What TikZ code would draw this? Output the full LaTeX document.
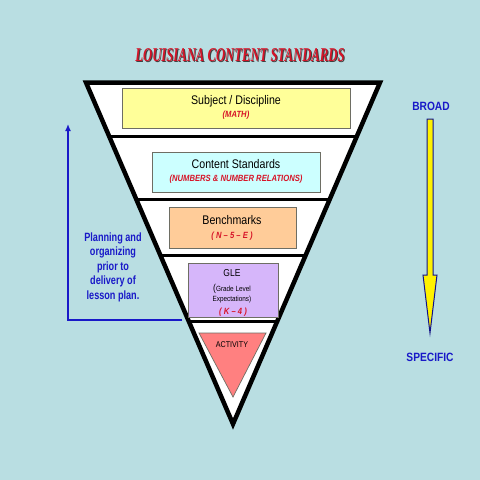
\documentclass[tikz,border=0pt]{standalone}
\usepackage{fontspec}
\setmainfont[FakeStretch=0.85]{Liberation Sans}
\newfontfamily\titlefont[FakeStretch=0.65]{Liberation Serif}
\newfontfamily\sidefont[FakeStretch=0.76]{Liberation Sans}
\usetikzlibrary{calc,positioning,arrows.meta}

\definecolor{fondo}{RGB}{185,222,226}
\definecolor{amarillo}{RGB}{255,255,153}
\definecolor{celeste}{RGB}{204,255,255}
\definecolor{naranja}{RGB}{255,204,153}
\definecolor{lila}{RGB}{214,182,250}
\definecolor{salmon}{RGB}{255,128,128}
\definecolor{rojo}{RGB}{215,20,40}
\definecolor{azul}{RGB}{25,25,200}
\definecolor{borde}{RGB}{110,110,100}

\begin{document}
\begin{tikzpicture}[x=1pt,y=-1pt,
  caja/.style={draw=borde, line width=0.7pt, inner sep=0pt},
  texto/.style={inner sep=0pt, font=\fontsize{12.5}{12.5}\selectfont},
  rojito/.style={inner sep=0pt, text=rojo, font=\bfseries\itshape\fontsize{9}{9}\selectfont},
  chico/.style={inner sep=0pt, font=\fontsize{7.5}{7.5}\selectfont},
  azulito/.style={inner sep=0pt, text=azul, font=\bfseries\fontsize{12}{12}\selectfont}]
% Fondo
\fill[fondo] (0,0) rectangle (480,480);
\useasboundingbox (0,0) rectangle (480,480);

% Titulo con sombra
\node[inner sep=0pt, text=black!75, font=\titlefont\bfseries\itshape\fontsize{19.5}{19.5}\selectfont] (Sombra) at (241,56) {LOUISIANA CONTENT STANDARDS};
\node[inner sep=0pt, text=rojo, font=\titlefont\bfseries\itshape\fontsize{19.5}{19.5}\selectfont] (Titulo) at (240,55) {LOUISIANA CONTENT STANDARDS};

% Triangulo grande
\coordinate (A) at (86,82.5);
\coordinate (B) at (380,82.5);
\coordinate (C) at (233,424);
\draw[line width=4.5pt, fill=white] (A) -- (B) -- (C) -- cycle;

% Lineas que separan los niveles
\foreach \t in {0.157, 0.344, 0.508, 0.701}
  \draw[line width=3pt] ($(A)!\t!(C)$) -- ($(B)!\t!(C)$);

% Cajas de cada nivel
\node[caja, fill=amarillo, minimum width=228, minimum height=40] (Sujeto) at (236,108) {};
\node[texto] (S1) at (236,101) {Subject / Discipline};
\node[rojito] (S2) at (236,115) {(MATH)};

\node[caja, fill=celeste, minimum width=168, minimum height=40] (Contenido) at (236,172) {};
\node[texto] (C1) at (236,164) {Content Standards};
\node[rojito] (C2) at (236,179) {(NUMBERS \& NUMBER RELATIONS)};

\node[caja, fill=naranja, minimum width=127, minimum height=41] (Bench) at (232.5,227.5) {};
\node[texto] (B1) at (232,220) {Benchmarks};
\node[rojito] (B2) at (232,236) {( N -- 5 -- E )};

\node[caja, fill=lila, minimum width=90, minimum height=54] (Gle) at (233,290) {};
\node[inner sep=0pt, font=\fontsize{10}{10}\selectfont] (G1) at (232,273) {GLE};
\node[chico] (G2) at (232,289) {{\fontsize{10}{10}\selectfont(}Grade Level};
\node[chico] (G3) at (232,300) {Expectations)};
\node[rojito] (G4) at (233,312) {( K -- 4 )};

% Triangulo chico: actividad
\coordinate (D1) at (199,333);
\coordinate (D2) at (266,333);
\coordinate (D3) at (233,397);
\draw[draw=borde, line width=0.7pt, fill=salmon] (D1) -- (D2) -- (D3) -- cycle;
\node[inner sep=0pt, font=\fontsize{8.4}{8.4}\selectfont] (Act) at (232,345) {ACTIVITY};

% Flecha amarilla: de lo general a lo especifico
\node[azulito] (Broad) at (431,106) {BROAD};
\node[azulito] (Specific) at (430,357) {SPECIFIC};
\coordinate (F) at (430,119);
\draw[draw=azul!70!black, line width=1pt, fill=yellow]
  ($(F)+(-3,0)$) -- ($(F)+(3,0)$) -- ($(F)+(3,156)$) -- ($(F)+(7,156)$)
  -- ($(F)+(0,214)$) -- ($(F)+(-7,156)$) -- ($(F)+(-3,156)$) -- cycle;

% Flecha azul de la izquierda
\node[inner sep=0pt, text=azul, align=center, font=\sidefont\bfseries\fontsize{12}{14.5}\selectfont] (Plan) at (113,267)
  {Planning and\\organizing\\prior to\\delivery of\\lesson plan.};
\coordinate (P0) at (182,320);
\coordinate (P1) at (68,320);
\coordinate (P2) at (68,124);
\draw[azul, line width=2pt, -{Latex[length=7pt,width=6pt]}] (P0) -- (P1) -- (P2);

\end{tikzpicture}
\end{document}
